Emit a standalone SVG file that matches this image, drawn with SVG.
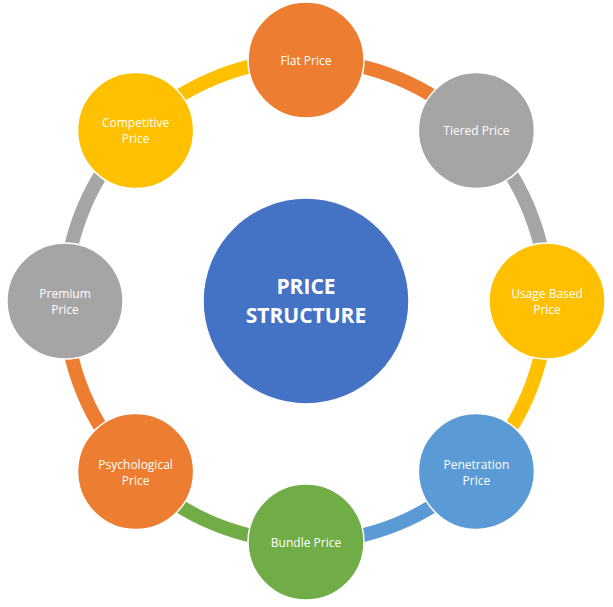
<svg xmlns="http://www.w3.org/2000/svg" width="613" height="607" viewBox="0 0 613 607">
<style>
.arc{fill:none;stroke-width:14}
.node{stroke:#ffffff;stroke-width:1.5}
.lbl{font-family:"Open Sans","Liberation Sans",sans-serif;font-size:12px;fill:#ffffff;text-anchor:middle;dominant-baseline:central}
.ctr{font-family:"Open Sans","Liberation Sans",sans-serif;font-size:21px;font-weight:bold;fill:#ffffff;text-anchor:middle;dominant-baseline:central}
</style>
<rect width="613" height="607" fill="#ffffff"/>
<g id="connectors">
<path class="arc" stroke="#ED7D31" d="M306 60 A241 241 0 0 1 476.4 130.6"/>
<path class="arc" stroke="#A5A5A5" d="M476.4 130.6 A241 241 0 0 1 547 301"/>
<path class="arc" stroke="#FFC000" d="M547 301 A241 241 0 0 1 476.4 471.4"/>
<path class="arc" stroke="#5B9BD5" d="M476.4 471.4 A241 241 0 0 1 306 542"/>
<path class="arc" stroke="#70AD47" d="M306 542 A241 241 0 0 1 135.6 471.4"/>
<path class="arc" stroke="#ED7D31" d="M135.6 471.4 A241 241 0 0 1 65 301"/>
<path class="arc" stroke="#A5A5A5" d="M65 301 A241 241 0 0 1 135.6 130.6"/>
<path class="arc" stroke="#FFC000" d="M135.6 130.6 A241 241 0 0 1 306 60"/>
</g>
<g id="center">
<circle class="node" cx="306" cy="301" r="103" fill="#4472C4"/>
<text class="ctr" x="306" y="286">PRICE</text>
<text class="ctr" x="306" y="315">STRUCTURE</text>
</g>
<g id="flat">
<circle class="node" cx="306" cy="60" r="58" fill="#ED7D31"/>
<text class="lbl" x="306" y="60">Flat Price</text>
</g>
<g id="tiered">
<circle class="node" cx="476.4" cy="130.6" r="58" fill="#A5A5A5"/>
<text class="lbl" x="476.4" y="130.6">Tiered Price</text>
</g>
<g id="usage">
<circle class="node" cx="547" cy="301" r="58" fill="#FFC000"/>
<text class="lbl" x="547" y="293">Usage Based</text>
<text class="lbl" x="547" y="309">Price</text>
</g>
<g id="penetration">
<circle class="node" cx="476.4" cy="471.4" r="58" fill="#5B9BD5"/>
<text class="lbl" x="476.4" y="464">Penetration</text>
<text class="lbl" x="476.4" y="480">Price</text>
</g>
<g id="bundle">
<circle class="node" cx="306" cy="542" r="58" fill="#70AD47"/>
<text class="lbl" x="306" y="542">Bundle Price</text>
</g>
<g id="psychological">
<circle class="node" cx="135.6" cy="471.4" r="58" fill="#ED7D31"/>
<text class="lbl" x="135.6" y="464">Psychological</text>
<text class="lbl" x="135.6" y="480">Price</text>
</g>
<g id="premium">
<circle class="node" cx="65" cy="301" r="58" fill="#A5A5A5"/>
<text class="lbl" x="65" y="293">Premium</text>
<text class="lbl" x="65" y="309">Price</text>
</g>
<g id="competitive">
<circle class="node" cx="135.6" cy="130.6" r="58" fill="#FFC000"/>
<text class="lbl" x="135.6" y="122">Competitive</text>
<text class="lbl" x="135.6" y="138">Price</text>
</g>
</svg>
